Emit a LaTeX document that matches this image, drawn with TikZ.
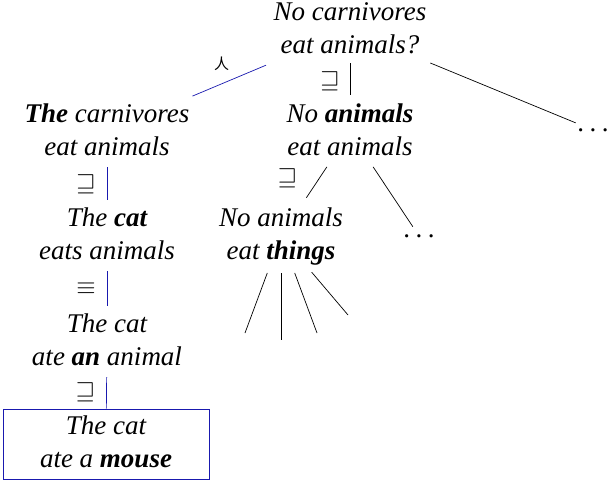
\documentclass[tikz,border=0pt]{standalone}
\usepackage{fontspec}
\setmainfont{Liberation Serif}
\newfontfamily\cjk{Noto Sans CJK SC}
\definecolor{lineblue}{RGB}{25,25,175}
\newcommand{\bi}[1]{\textbf{\textit{#1}}}
\newcommand{\tdots}{.\kern0.2em.\kern0.2em.}
\tikzset{
  sent/.style={align=center, inner sep=0pt, font=\fontsize{27}{33}\selectfont\itshape},
  dots/.style={inner sep=0pt, font=\fontsize{27}{33}\selectfont},
  rel/.style={inner sep=0pt, font=\fontsize{31}{31}\selectfont},
  conn/.style={line width=0.7pt},
  bconn/.style={conn, draw=lineblue},
}
\begin{document}
\begin{tikzpicture}[x=1pt,y=-1pt]
\useasboundingbox (0,0) rectangle (610,482);
% nodes
\node[sent] (root) at (350,30) {No carnivores\strut\\eat animals?\strut};
\node[sent] (left1) at (107,132) {\bi{The} carnivores\strut\\eat animals\strut};
\node[sent] (mid1) at (350,132) {No \bi{animals}\strut\\eat animals\strut};
\node[dots] (dotsA) at (593,130) {\tdots};
\node[sent] (left2) at (107,236) {The \bi{cat}\strut\\eats animals\strut};
\node[sent] (mid2) at (281,236) {No animals\strut\\eat \bi{things}\strut};
\node[dots] (dotsB) at (419,236) {\tdots};
\node[sent] (left3) at (107,342) {The cat\strut\\ate \bi{an} animal\strut};
\node[sent, draw=lineblue, line width=0.8pt, minimum width=206pt, minimum height=70pt] (left4) at (106,444) {The cat\strut\\ate a \bi{mouse}\strut};
\coordinate (c1) at (245,333);
\coordinate (c2) at (281,340);
\coordinate (c3) at (317,333);
\coordinate (c4) at (348,315);
% connectors
\draw[bconn, shorten <=8pt, shorten >=7pt] (root) -- node[midway, xshift=-8pt, yshift=17pt] {\cjk\fontsize{15}{18}\selectfont 人} (left1);
\draw[conn, shorten <=0pt, shorten >=4pt] (root) -- node[rel, midway, xshift=-20pt] {$\sqsupseteq$} (mid1);
\draw[conn, shorten <=4pt, shorten >=14pt] (root) -- (dotsA);
\draw[bconn, shorten <=2pt, shorten >=3pt] (left1) -- node[rel, midway, xshift=-21pt] {$\sqsupseteq$} (left2);
\draw[bconn, shorten <=2pt, shorten >=3pt] (left2) -- node[rel, midway, xshift=-21pt] {$\equiv$} (left3);
\draw[bconn, shorten <=2pt] (left3) -- node[rel, midway, xshift=-21pt] {$\sqsupseteq$} (left4);
\draw[conn, shorten <=2pt, shorten >=6pt] (mid1) -- node[rel, midway, xshift=-28pt, yshift=6pt] {$\sqsupseteq$} (mid2);
\draw[conn, shorten <=2pt, shorten >=9pt] (mid1) -- (dotsB);
\draw[conn, shorten <=4pt] (mid2) -- (c1);
\draw[conn, shorten <=4pt] (mid2) -- (c2);
\draw[conn, shorten <=4pt] (mid2) -- (c3);
\draw[conn, shorten <=4pt] (mid2) -- (c4);
\end{tikzpicture}
\end{document}
